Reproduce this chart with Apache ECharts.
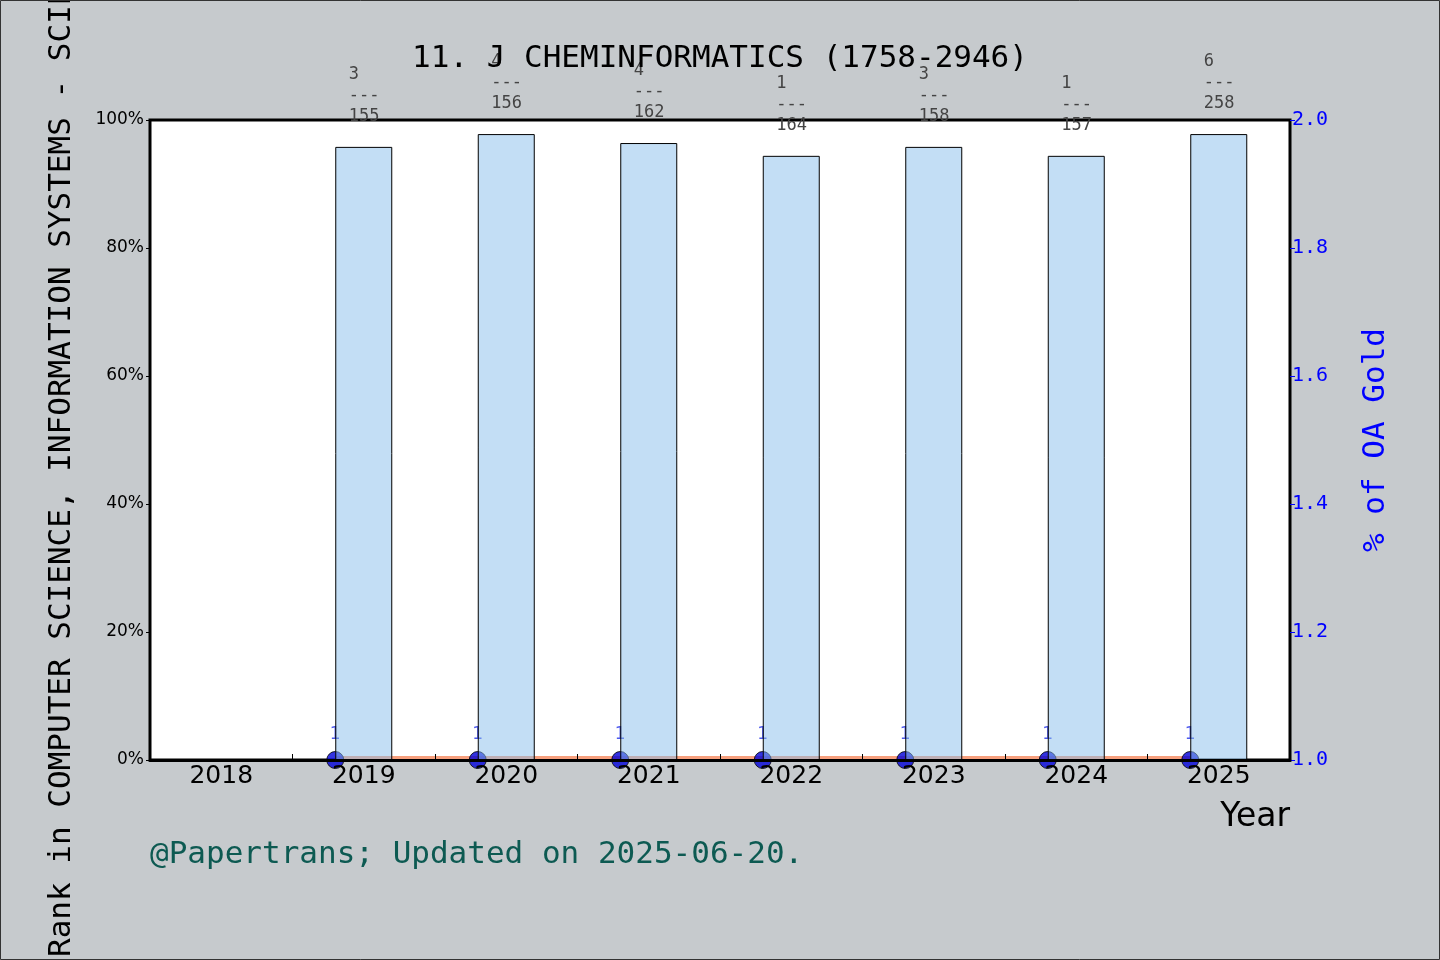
<!DOCTYPE html>
<html>
<head>
<meta charset="utf-8">
<title>J CHEMINFORMATICS</title>
<script src="https://cdn.jsdelivr.net/npm/echarts@6/dist/echarts.min.js"></script>
<style>
  html, body { margin: 0; padding: 0; background: #c6cacd; }
  #chart { width: 1440px; height: 960px; }
</style>
</head>
<body>
<div id="chart"></div>
<script>
// values
var years = ['2018', '2019', '2020', '2021', '2022', '2023', '2024', '2025'];
var rankPct = [null, 95.8, 97.8, 96.4, 94.4, 95.8, 94.4, 97.8];
var rankNum = [null, 3, 4, 4, 1, 3, 1, 6];
var rankTotal = [null, 155, 156, 162, 164, 158, 157, 258];
var oaGold = [null, 1, 1, 1, 1, 1, 1, 1];
var lowLine = [null, 0.4, 0.4, 0.4, 0.4, 0.4, 0.4, 0.4];
var leftTicks = [0, 20, 40, 60, 80, 100];
var rightTicks = [1.0, 1.2, 1.4, 1.6, 1.8, 2.0];

var mono = 'DejaVu Sans Mono';
var shift = -0.2; // markers sit on the left edge of each bar

function shifted(arr) {
    var out = [];
    for (var i = 0; i < arr.length; i++) {
        if (arr[i] !== null) out.push([i + shift, arr[i]]);
    }
    return out;
}

var chart = echarts.init(document.getElementById('chart'));

var option = {
    backgroundColor: '#c6cacd',
    animation: false,
    title: {
        text: '11. J CHEMINFORMATICS (1758-2946)',
        left: 'center',
        top: 38,
        textStyle: { fontFamily: mono, fontSize: 31, fontWeight: 'normal', color: '#000' },
        z: 20
    },
    grid: {
        left: 150, right: 150, top: 120, bottom: 200,
        show: true, backgroundColor: '#fff', borderColor: '#000', borderWidth: 3
    },
    xAxis: [
        {
            type: 'category',
            data: years,
            z: 10,
            axisLine: { show: true, onZero: false, lineStyle: { color: '#000', width: 3 } },
            axisTick: { show: true, inside: true, length: 6, lineStyle: { color: '#000', width: 1 } },
            axisLabel: { fontFamily: 'DejaVu Sans', fontSize: 25, color: '#000', margin: 4 }
        },
        {
            type: 'value',
            min: -0.5,
            max: years.length - 0.5,
            show: false
        }
    ],
    yAxis: [
        {
            type: 'value',
            min: leftTicks[0],
            max: leftTicks[leftTicks.length - 1],
            interval: leftTicks[1] - leftTicks[0],
            position: 'left',
            splitLine: { show: false },
            axisLine: { show: false, onZero: false },
            axisTick: { show: true, length: 4, lineStyle: { color: '#000' } },
            axisLabel: { fontFamily: 'DejaVu Sans', fontSize: 17, color: '#000', margin: 6,
                formatter: '{value}%' }
        },
        {
            type: 'value',
            min: rightTicks[0],
            max: rightTicks[rightTicks.length - 1],
            interval: 0.2,
            position: 'right',
            splitLine: { show: false },
            axisLine: { show: false, onZero: false },
            axisTick: { show: true, length: 5, lineStyle: { color: '#0000ff' } },
            axisLabel: { fontFamily: mono, fontSize: 20, color: '#0000ff', margin: 2,
                formatter: function (v) { return v.toFixed(1); } },
            name: '% of OA Gold',
            nameLocation: 'middle',
            nameRotate: 90,
            nameGap: 70,
            nameTextStyle: { fontFamily: mono, fontSize: 31, color: '#0000ff' }
        }
    ],
    series: [
        {
            name: 'low',
            type: 'line',
            xAxisIndex: 1,
            yAxisIndex: 0,
            data: shifted(lowLine),
            showSymbol: false,
            lineStyle: { color: '#f7a07e', width: 3 },
            z: 1
        },
        {
            name: 'OA Gold',
            type: 'scatter',
            xAxisIndex: 1,
            yAxisIndex: 1,
            data: shifted(oaGold),
            symbolSize: 17,
            clip: false,
            itemStyle: { color: '#0000d8', borderColor: '#000', borderWidth: 1 },
            label: {
                show: true, position: 'top', distance: 8,
                fontFamily: 'DejaVu Sans', fontSize: 17, color: '#2030e8',
                formatter: function (p) { return String(p.value[1]); }
            },
            z: 2
        },
        {
            name: 'Rank',
            type: 'bar',
            xAxisIndex: 0,
            yAxisIndex: 0,
            data: rankPct,
            barWidth: '40%',
            itemStyle: { color: 'rgba(135,190,235,0.5)', borderColor: '#000', borderWidth: 1 },
            label: {
                show: true,
                position: 'top',
                distance: 20,
                align: 'left',
                offset: [-15, 0],
                fontFamily: mono,
                fontSize: 17,
                lineHeight: 21,
                color: '#444',
                formatter: function (p) {
                    return rankNum[p.dataIndex] + '\n---\n' + rankTotal[p.dataIndex];
                }
            },
            z: 3
        }
    ],
    graphic: [
        {
            type: 'text',
            x: 62, y: 957,
            rotation: Math.PI / 2,
            style: {
                text: 'Rank in COMPUTER SCIENCE, INFORMATION SYSTEMS - SCIE',
                fontFamily: mono, fontSize: 31, fill: '#000',
                textAlign: 'left', textVerticalAlign: 'middle'
            }
        },
        {
            type: 'text',
            x: 1290, y: 817,
            style: {
                text: 'Year', fontFamily: 'DejaVu Sans', fontSize: 33, fill: '#000',
                textAlign: 'right', textVerticalAlign: 'middle'
            }
        },
        {
            type: 'text',
            x: 150, y: 855,
            style: {
                text: '@Papertrans; Updated on 2025-06-20.',
                fontFamily: mono, fontSize: 31, fill: '#0d5a52',
                textAlign: 'left', textVerticalAlign: 'middle'
            }
        },
        {
            type: 'rect',
            shape: { x: 0.5, y: 0.5, width: 1439, height: 959 },
            style: { fill: null, stroke: '#333', lineWidth: 1 }
        }
    ]
};

chart.setOption(option);
</script>
</body>
</html>
